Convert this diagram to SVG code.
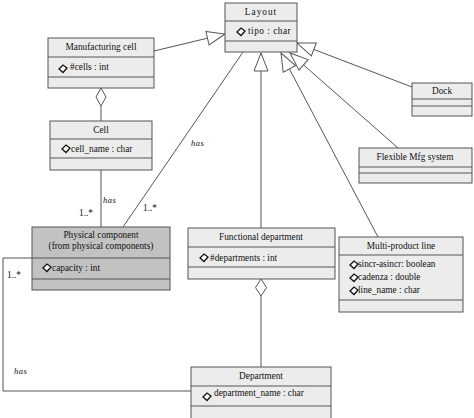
<svg xmlns="http://www.w3.org/2000/svg" width="474" height="418" viewBox="0 0 474 418">
<style>
.box{fill:#ececec;stroke:#555;stroke-width:1}
.gray{fill:#c2c2c2;stroke:#555;stroke-width:1}
.div{stroke:#555;stroke-width:1}
text{font-family:"Liberation Serif","Times New Roman",serif;font-size:9.3px;fill:#111}
.c{text-anchor:middle}
.lbl{font-style:italic;font-size:8.5px;letter-spacing:0.5px}
.ln{fill:none;stroke:#555;stroke-width:1}
.gen{marker-end:url(#tri)}
.ic{fill:#fff;stroke:#111;stroke-width:1.3}
</style>
<defs>
<marker id="tri" viewBox="0 0 18 14" refX="18" refY="7" markerWidth="18" markerHeight="14" markerUnits="userSpaceOnUse" orient="auto" overflow="visible">
<path d="M0,0 L18,7 L0,14 Z" fill="#fff" stroke="#555" stroke-width="1"/>
</marker>
<path id="icon" d="M0,4 L4,0 L8,3 L4,7.5 Z"/>
</defs>
<rect width="474" height="418" fill="#fff"/>

<g id="connectors">
<line class="ln gen" x1="154" y1="51" x2="225" y2="34"/>
<line class="ln gen" x1="261" y1="228" x2="261" y2="53"/>
<line class="ln gen" x1="378" y1="237" x2="281" y2="53"/>
<line class="ln gen" x1="398" y1="148" x2="290" y2="53"/>
<line class="ln gen" x1="412" y1="87" x2="297" y2="43"/>
<line class="ln" x1="123" y1="227" x2="243" y2="52"/>
<line class="ln" x1="101" y1="106" x2="101" y2="121"/>
<path class="ln" d="M101,88 L106,97 L101,106 L96,97 Z" fill="#fff"/>
<line class="ln" x1="101" y1="170" x2="101" y2="227"/>
<line class="ln" x1="261" y1="296" x2="261" y2="367"/>
<path class="ln" d="M261,279 L266.5,287.5 L261,296 L255.5,287.5 Z" fill="#fff"/>
<polyline class="ln" points="32,258 3,258 3,391 191,391"/>
<text class="lbl" x="191" y="146">has</text>
<text x="143" y="211">1..*</text>
<text class="lbl" x="103" y="203">has</text>
<text x="79" y="216">1..*</text>
<text x="7" y="278">1..*</text>
<text class="lbl" x="14" y="374">has</text>
</g>

<g id="layout">
<rect class="box" x="225" y="3" width="72" height="49"/>
<line class="div" x1="225" y1="21" x2="297" y2="21"/>
<line class="div" x1="225" y1="41" x2="297" y2="41"/>
<text class="c" x="261" y="15" style="letter-spacing:1px">Layout</text>
<use href="#icon" class="ic" x="237" y="28"/>
<text x="248" y="34" style="letter-spacing:0.5px">tipo : char</text>
</g>

<g id="manufacturing-cell">
<rect class="box" x="48" y="38" width="106" height="50"/>
<line class="div" x1="48" y1="57" x2="154" y2="57"/>
<line class="div" x1="48" y1="77" x2="154" y2="77"/>
<text class="c" x="101" y="50">Manufacturing cell</text>
<use href="#icon" class="ic" x="59" y="65"/>
<text x="70" y="70">#cells  : int</text>
</g>

<g id="cell">
<rect class="box" x="50" y="121" width="102" height="49"/>
<line class="div" x1="50" y1="139" x2="152" y2="139"/>
<line class="div" x1="50" y1="158" x2="152" y2="158"/>
<text class="c" x="101" y="133">Cell</text>
<use href="#icon" class="ic" x="62" y="145"/>
<text x="71" y="152">cell_name : char</text>
</g>

<g id="physical-component">
<rect class="gray" x="32" y="227" width="138" height="63"/>
<line class="div" x1="32" y1="258" x2="170" y2="258"/>
<line class="div" x1="32" y1="279" x2="170" y2="279"/>
<text class="c" x="101" y="238">Physical component</text>
<text class="c" x="101" y="249">(from physical components)</text>
<use href="#icon" class="ic" x="43" y="264"/>
<text x="52" y="271">capacity : int</text>
</g>

<g id="functional-department">
<rect class="box" x="188" y="228" width="147" height="51"/>
<line class="div" x1="188" y1="247" x2="335" y2="247"/>
<line class="div" x1="188" y1="267" x2="335" y2="267"/>
<text class="c" x="261" y="240">Functional department</text>
<use href="#icon" class="ic" x="200" y="254"/>
<text x="210" y="261">#departments  : int</text>
</g>

<g id="multi-product-line">
<rect class="box" x="339" y="237" width="124" height="75"/>
<line class="div" x1="339" y1="255" x2="463" y2="255"/>
<line class="div" x1="339" y1="300" x2="463" y2="300"/>
<text class="c" x="401" y="249">Multi-product line</text>
<use href="#icon" class="ic" x="350" y="261"/>
<text x="358" y="267">sincr-asincr: boolean</text>
<use href="#icon" class="ic" x="350" y="274"/>
<text x="358" y="280">cadenza : double</text>
<use href="#icon" class="ic" x="350" y="287"/>
<text x="358" y="293">line_name : char</text>
</g>

<g id="dock">
<rect class="box" x="412" y="83" width="60" height="33"/>
<line class="div" x1="412" y1="99" x2="472" y2="99"/>
<line class="div" x1="412" y1="106" x2="472" y2="106"/>
<text class="c" x="442" y="94">Dock</text>
</g>

<g id="flexible-mfg-system">
<rect class="box" x="359" y="148" width="113" height="35"/>
<line class="div" x1="359" y1="167" x2="472" y2="167"/>
<line class="div" x1="359" y1="173" x2="472" y2="173"/>
<text class="c" x="415" y="160">Flexible Mfg system</text>
</g>

<g id="department">
<rect class="box" x="191" y="367" width="140" height="55"/>
<line class="div" x1="191" y1="386" x2="331" y2="386"/>
<line class="div" x1="191" y1="406" x2="331" y2="406"/>
<text class="c" x="261" y="379">Department</text>
<use href="#icon" class="ic" x="203" y="393"/>
<text x="214" y="396">department_name  : char</text>
</g>
</svg>
